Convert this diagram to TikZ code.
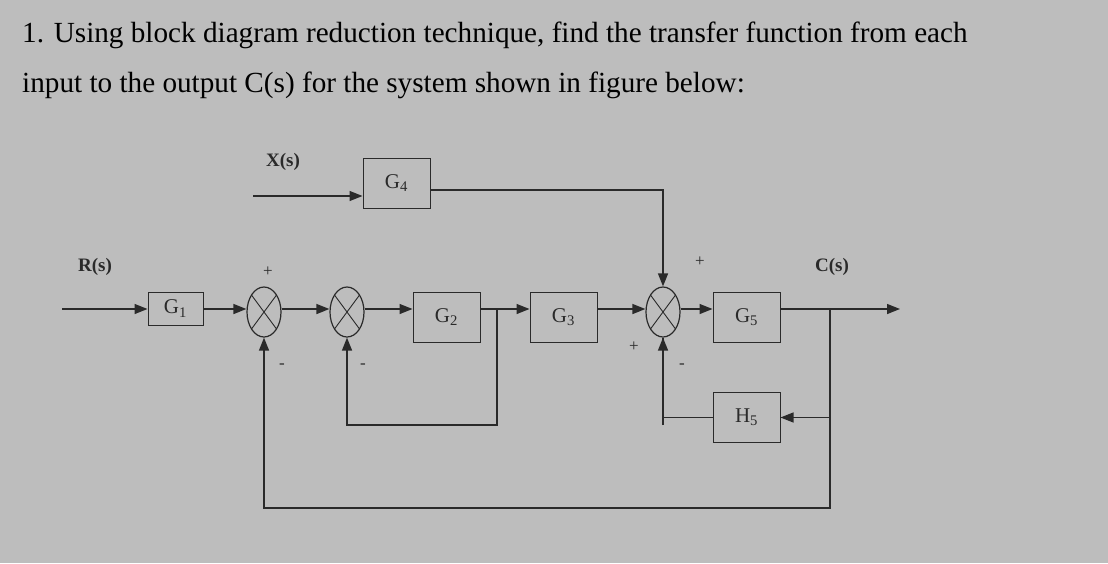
\documentclass[tikz,border=0pt]{standalone}
\usepackage{fontspec}
\setmainfont{Liberation Serif}
\usetikzlibrary{arrows.meta,shapes.geometric}
\definecolor{bg}{HTML}{BDBDBD}
\definecolor{ink}{HTML}{2A2A2A}
\begin{document}
\begin{tikzpicture}[x=1pt,y=-1pt,
  blk/.style={draw=ink,line width=1pt,minimum width=67pt,minimum height=50pt,inner sep=0pt,font=\fontsize{21}{21}\selectfont,text=ink},
  sumj/.style={draw=ink,line width=1.2pt,ellipse,minimum width=34pt,minimum height=50pt,inner sep=0pt,path picture={\draw[ink,line width=0.9pt] ([xshift=3,yshift=-6]path picture bounding box.north west) -- ([xshift=-3,yshift=6]path picture bounding box.south east);\draw[ink,line width=0.9pt] ([xshift=-3,yshift=-6]path picture bounding box.north east) -- ([xshift=3,yshift=6]path picture bounding box.south west);}},
  wire/.style={draw=ink,line width=1.4pt},
  arr/.style={wire,-{Triangle[length=13pt,width=10pt]}},
  lbl/.style={font=\bfseries\fontsize{19}{19}\selectfont,text=ink},
  sgn/.style={font=\fontsize{17}{17}\selectfont,text=ink}]
\fill[bg] (0,0) rectangle (1108,563);
\useasboundingbox (0,0) rectangle (1108,563);
\node[anchor=base west,inner sep=0pt,font=\fontsize{29.2}{29.2}\selectfont,text=black] (t1) at (22,42) {1. Using block diagram reduction technique, find the transfer function from each};
\node[anchor=base west,inner sep=0pt,font=\fontsize{29.2}{29.2}\selectfont,text=black] (t2) at (22,92) {input to the output C(s) for the system shown in figure below:};

\node[blk,minimum width=55pt,minimum height=33pt] (g1) at (175.5,308.5) {G\textsubscript{1}};
\node[sumj] (s1) at (264,312) {};
\node[sumj] (s2) at (347,312) {};
\node[blk] (g2) at (446.5,317) {G\textsubscript{2}};
\node[blk] (g3) at (563.5,317) {G\textsubscript{3}};
\node[sumj] (s3) at (663,312) {};
\node[blk] (g5) at (746.5,317) {G\textsubscript{5}};
\node[blk] (h5) at (746.5,417.5) {H\textsubscript{5}};
\node[blk] (g4) at (396.5,183) {G\textsubscript{4}};

\coordinate (rin) at (62,309);
\coordinate (xin) at (253,196);
\coordinate (b2) at (497,309);
\coordinate (bo) at (830,309);
\coordinate (cout) at (900,309);

\node[lbl] (r) at (95,267) {R(s)};
\node[lbl] (x) at (283,162) {X(s)};
\node[lbl] (c) at (832,267) {C(s)};
\node[sgn] (p1) at (268,272) {+};
\node[sgn] (m1) at (282,366) {-};
\node[sgn] (m2) at (363,366) {-};
\node[sgn] (p3) at (634,347) {+};
\node[sgn] (p4) at (700,262) {+};
\node[sgn] (m3) at (682,366) {-};

\draw[arr] (rin) -- (rin -| g1.west);
\draw[arr] (g1.east |- rin) -- (s1.west |- rin);
\draw[arr] (s1.east |- rin) -- (s2.west |- rin);
\draw[arr] (s2.east |- rin) -- (g2.west |- rin);
\draw[arr] (g2.east |- rin) -- (g3.west |- rin);
\draw[arr] (g3.east |- rin) -- (s3.west |- rin);
\draw[arr] (s3.east |- rin) -- (g5.west |- rin);
\draw[arr] (g5.east |- rin) -- (cout);
\draw[arr] (xin) -- (xin -| g4.west);
\draw[arr] (g4.east |- 0,190) -| (s3.north);
\draw[arr] (b2) |- (s2.south |- 0,425) -- (s2.south);
\draw[arr] (bo) |- (h5.east);
\draw[wire] (h5.west) -| (s3.south);
\draw[arr] (s3.south |- 0,425) -- (s3.south);
\draw[arr] (bo) |- (s1.south |- 0,508) -- (s1.south);
\end{tikzpicture}
\end{document}
